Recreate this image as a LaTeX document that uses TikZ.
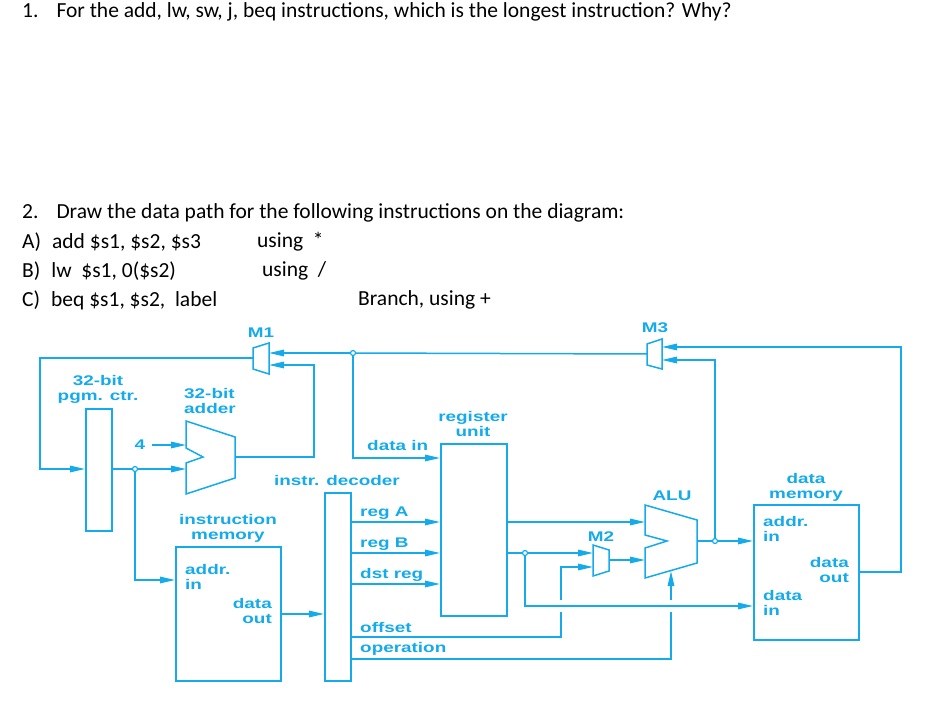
\documentclass[tikz,border=0pt]{standalone}
\usepackage{fontspec}
\usetikzlibrary{arrows.meta}
\setmainfont{Carlito}
\newfontfamily\diagfont{Liberation Sans Bold}[FakeStretch=1.35]
\definecolor{wire}{RGB}{20,170,235}
\tikzset{
  wire/.style={draw=wire,line width=1.5pt},
  arr/.style={wire,-{Triangle[length=15pt,width=6.5pt]}},
  box/.style={draw=wire,line width=1.5pt,anchor=north west,inner sep=0pt},
  lbl/.style={text=wire,font=\diagfont\fontsize{14}{14}\selectfont,inner sep=0pt,align=center},
  q/.style={font=\fontsize{21.5}{21.5}\selectfont,anchor=west,inner sep=0pt},
  dot/.style={draw=wire,line width=1.2pt,fill=white,circle,inner sep=0pt,minimum size=5pt},
}
\begin{document}
\begin{tikzpicture}[x=1pt,y=1pt,yscale=-1]
    \useasboundingbox (0,0) rectangle (944,708);
    % questions
    \node[q] (q1) at (22,12) {1.\hspace{18pt}For the add, lw, sw, j, beq instructions, which is the longest instruction? Why?};
    \node[q] (q2) at (22,213) {2.\hspace{18pt}Draw the data path for the following instructions on the diagram:};
    \node[q] (qa) at (22,242) {A)\hspace{11pt}add \$s1, \$s2, \$s3};
    \node[q] (qb) at (22,271) {B)\hspace{11pt}lw \ \$s1, 0(\$s2)};
    \node[q] (qc) at (22,300) {C)\hspace{11pt}beq \$s1, \$s2, \ label};
    \node[q] (ua) at (257,242) {using \ *};
    \node[q] (ub) at (262,271) {using \ /};
    \node[q] (uc) at (358,300) {Branch, using +};
    % boxes
    \node[box,minimum width=26pt,minimum height=122pt] (pc) at (85,408) {};
    \node[box,minimum width=105pt,minimum height=134pt] (imem) at (175,546) {};
    \node[box,minimum width=26pt,minimum height=188pt] (dec) at (324,492) {};
    \node[box,minimum width=66pt,minimum height=172pt] (reg) at (440,443) {};
    \node[box,minimum width=105pt,minimum height=135pt] (dmem) at (753,504) {};
    % muxes, adder, ALU
    \draw[wire] (253,348) -- (269,343) -- (269,374) -- (253,369) -- cycle;
    \draw[wire] (647,344) -- (662,339) -- (662,369) -- (647,365) -- cycle;
    \draw[wire] (593,545) -- (609,550) -- (609,571) -- (593,576) -- cycle;
    \draw[wire] (186,421) -- (235,437) -- (235,478) -- (186,494) -- (186,463) -- (203,457) -- (186,448) -- cycle;
    \draw[wire] (645,505) -- (697,520) -- (697,563) -- (645,578) -- (645,548) -- (667,541) -- (645,535) -- cycle;
    % junctions
    \coordinate (m1o) at (253,358);
    \coordinate (m1a) at (269,353);
    \coordinate (m1b) at (269,365);
    \coordinate (m3o) at (647,354);
    \coordinate (m3a) at (662,347);
    \coordinate (m3b) at (662,360);
    \coordinate (m2a) at (593,553);
    \coordinate (m2b) at (593,567);
    \coordinate (m2o) at (609,560);
    \coordinate (addo) at (235,457);
    \coordinate (aluo) at (697,541);
    \node[dot] (j1) at (353,353) {};
    \node[dot] (j2) at (135,469) {};
    \node[dot] (j3) at (525,553) {};
    \node[dot] (j4) at (715,541) {};
    % wires
    \draw[arr] (m1o) -- (40,358) |- (pc.west |- 0,469);
    \draw[wire] (pc.east |- 0,469) -- (j2);
    \draw[arr] (j2) -- (186,469);
    \draw[arr] (j2) |- (imem.west |- 0,580);
    \draw[arr] (152,445) -- (186,445);
    \draw[arr] (addo) -- (314,457) |- (m1b);
    \draw[wire] (m3o) -- (j1);
    \draw[arr] (j1) -- (m1a);
    \draw[arr] (j1) |- (reg.west |- 0,458);
    \draw[arr] (imem.east |- 0,614) -- (dec.west |- 0,614);
    \draw[arr] (dec.east |- 0,522) -- (reg.west |- 0,522);
    \draw[arr] (dec.east |- 0,553) -- (reg.west |- 0,553);
    \draw[arr] (dec.east |- 0,584) -- (reg.west |- 0,584);
    \draw[arr] (reg.east |- 0,522) -- (645,522);
    \draw[wire] (reg.east |- 0,553) -- (j3);
    \draw[arr] (j3) -- (m2a);
    \draw[arr] (j3) |- (dmem.west |- 0,606);
    \draw[arr] (m2o) -- (645,560);
    \draw[wire] (dec.east |- 0,637) -- (561,637) -- (561,612);
    \draw[arr] (561,600) |- (m2b);
    \draw[wire] (dec.east |- 0,659) -- (671,659) -- (671,612);
    \draw[arr] (671,600) -- (671,571);
    \draw[wire] (aluo) -- (j4);
    \draw[arr] (j4) -- (dmem.west |- 0,541);
    \draw[arr] (j4) |- (m3b);
    \draw[arr] (dmem.east |- 0,572) -- (901,572) |- (m3a);
    % labels
    \node[lbl] (tm1) at (261,333) {M1};
    \node[lbl] (tm3) at (655,328) {M3};
    \node[lbl] (tm2) at (601,537) {M2};
    \node[lbl] (tpc) at (98,389) {32-bit\\[1pt]pgm. ctr.};
    \node[lbl,align=left,anchor=west] (tadd) at (184,401) {32-bit\\[1pt]adder};
    \node[lbl] (tfour) at (140,445) {4};
    \node[lbl] (timem) at (228,528) {instruction\\[1pt]memory};
    \node[lbl,align=left,anchor=west] (tia) at (185,577) {addr.\\[1pt]in};
    \node[lbl,align=right,anchor=east] (tio) at (272,611) {data\\[1pt]out};
    \node[lbl] (tdec) at (337,480) {instr. decoder};
    \node[lbl,anchor=west] (tdin) at (367,445) {data in};
    \node[lbl] (treg) at (473,424) {register\\[1pt]unit};
    \node[lbl,anchor=west] (tra) at (360,513) {reg A};
    \node[lbl,anchor=west] (trb) at (360,544) {reg B};
    \node[lbl,anchor=west] (trd) at (360,575) {dst reg};
    \node[lbl,anchor=west] (tof) at (360,627) {offset};
    \node[lbl,anchor=west] (top) at (360,649) {operation};
    \node[lbl] (talu) at (672,496) {ALU};
    \node[lbl] (tdm) at (806,487) {data\\[1pt]memory};
    \node[lbl,align=left,anchor=west] (tda) at (763,529) {addr.\\[1pt]in};
    \node[lbl,align=right,anchor=east] (tdo) at (849,570) {data\\[1pt]out};
    \node[lbl,align=left,anchor=west] (tdi) at (763,603) {data\\[1pt]in};
\end{tikzpicture}
\end{document}
